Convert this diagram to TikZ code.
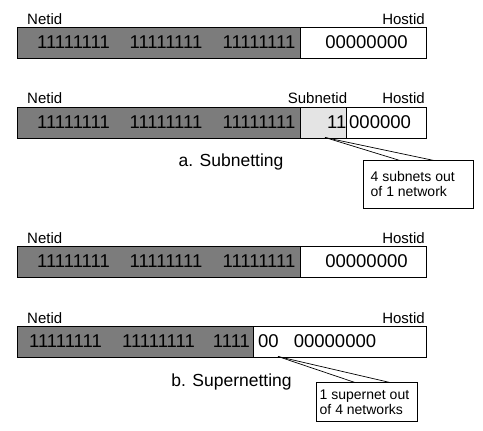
\documentclass[tikz,border=0pt]{standalone}
\usepackage{fontspec}
\usetikzlibrary{calc}
\setmainfont{Liberation Sans}
\definecolor{netgray}{HTML}{7C7C7C}
\definecolor{subgray}{HTML}{E4E4E4}
\tikzset{
  seg/.style={draw=black, line width=0.9pt, minimum height=31pt, inner sep=0pt, outer sep=0pt, anchor=north west},
  netseg/.style={seg, fill=netgray},
  subseg/.style={seg, fill=subgray},
  hostseg/.style={seg, fill=white},
  bits/.style={font=\fontsize{18.5}{22}\selectfont, inner sep=0pt, anchor=base},
  lbl/.style={font=\fontsize{15}{18}\selectfont, inner sep=0pt, anchor=base},
  caption/.style={font=\fontsize{17.5}{21}\selectfont, inner sep=0pt, anchor=base},
  callbox/.style={draw=black, line width=0.8pt, fill=white, inner sep=0pt, anchor=north west},
  calltext/.style={font=\fontsize{14}{16}\selectfont, inner sep=0pt, anchor=base west},
  wedge/.style={draw=black, line width=0.7pt}
}
\begin{document}
\begin{tikzpicture}[x=1pt, y=-1pt]
\useasboundingbox (0,0) rectangle (483,431);
\fill[white] (0,0) rectangle (483,431);

% ---------- Bar 1 ----------
\node[netseg, minimum width=283pt] (n1) at (17,27.5) {};
\node[hostseg, minimum width=126.5pt] (h1) at (300,27.5) {};
\node[lbl, anchor=base west] (n1l) at (27,24.5) {Netid};
\node[lbl, anchor=base east] (h1l) at (425,24.5) {Hostid};
\node[bits] (n1a) at (73.5,48.5) {11111111};
\node[bits] (n1b) at (166,48.5) {11111111};
\node[bits] (n1c) at (259,48.5) {11111111};
\node[bits] (h1b) at (366.5,48.5) {00000000};

% ---------- Bar 2 ----------
\node[netseg, minimum width=283pt] (n2) at (17,107.5) {};
\node[subseg, minimum width=46pt] (s2) at (300,107.5) {};
\node[hostseg, minimum width=80.5pt] (h2) at (346,107.5) {};
\node[lbl, anchor=base west] (n2l) at (27,103.5) {Netid};
\node[lbl] (s2l) at (317.5,103.5) {Subnetid};
\node[lbl, anchor=base east] (h2l) at (425,103.5) {Hostid};
\node[bits] (n2a) at (73.5,128.5) {11111111};
\node[bits] (n2b) at (166,128.5) {11111111};
\node[bits] (n2c) at (259,128.5) {11111111};
\node[bits, anchor=base east] (s2b) at (346.5,128.5) {11};
\node[bits, anchor=base west] (h2b) at (349,128.5) {000000};

\node[caption] (capa) at (231,166.5) {a. Subnetting};

% callout a
\coordinate (ta) at ($(s2.south)+(2,-1)$);
\coordinate (a1) at (400,160.5);
\coordinate (a2) at (434,160.5);
\draw[wedge] (ta) -- (a1);
\draw[wedge] (ta) -- (a2);
\node[callbox, minimum width=110pt, minimum height=48pt] (ca) at (363,160) {};
\node[calltext] (ca1) at (370.5,181) {4 subnets out};
\node[calltext] (ca2) at (370.5,196.5) {of 1 network};

% ---------- Bar 3 ----------
\node[netseg, minimum width=283pt] (n3) at (17,246) {};
\node[hostseg, minimum width=126.5pt] (h3) at (300,246) {};
\node[lbl, anchor=base west] (n3l) at (27,243) {Netid};
\node[lbl, anchor=base east] (h3l) at (425,243) {Hostid};
\node[bits] (n3a) at (73.5,267) {11111111};
\node[bits] (n3b) at (166,267) {11111111};
\node[bits] (n3c) at (259,267) {11111111};
\node[bits] (h3b) at (366.5,267) {00000000};

% ---------- Bar 4 ----------
\node[netseg, minimum width=236pt] (n4) at (17,326) {};
\node[hostseg, minimum width=173.5pt] (h4) at (253,326) {};
\node[lbl, anchor=base west] (n4l) at (27,323) {Netid};
\node[lbl, anchor=base east] (h4l) at (425,323) {Hostid};
\node[bits] (n4a) at (65.5,347) {11111111};
\node[bits] (n4b) at (158.5,347) {11111111};
\node[bits] (n4c) at (231.5,347) {1111};
\node[bits] (h4a) at (268.5,347) {00};
\node[bits] (h4b) at (335,347) {00000000};

\node[caption] (capb) at (231.5,386) {b. Supernetting};

% callout b
\coordinate (tb) at ($(h4.south west)+(25,-0.5)$);
\coordinate (b1) at (355,382.5);
\coordinate (b2) at (390,382.5);
\draw[wedge] (tb) -- (b1);
\draw[wedge] (tb) -- (b2);
\node[callbox, minimum width=101pt, minimum height=39pt] (cb) at (316,382) {};
\node[calltext] (cb1) at (319.5,399.5) {1 supernet out};
\node[calltext] (cb2) at (319.5,414.5) {of 4 networks};
\end{tikzpicture}
\end{document}
